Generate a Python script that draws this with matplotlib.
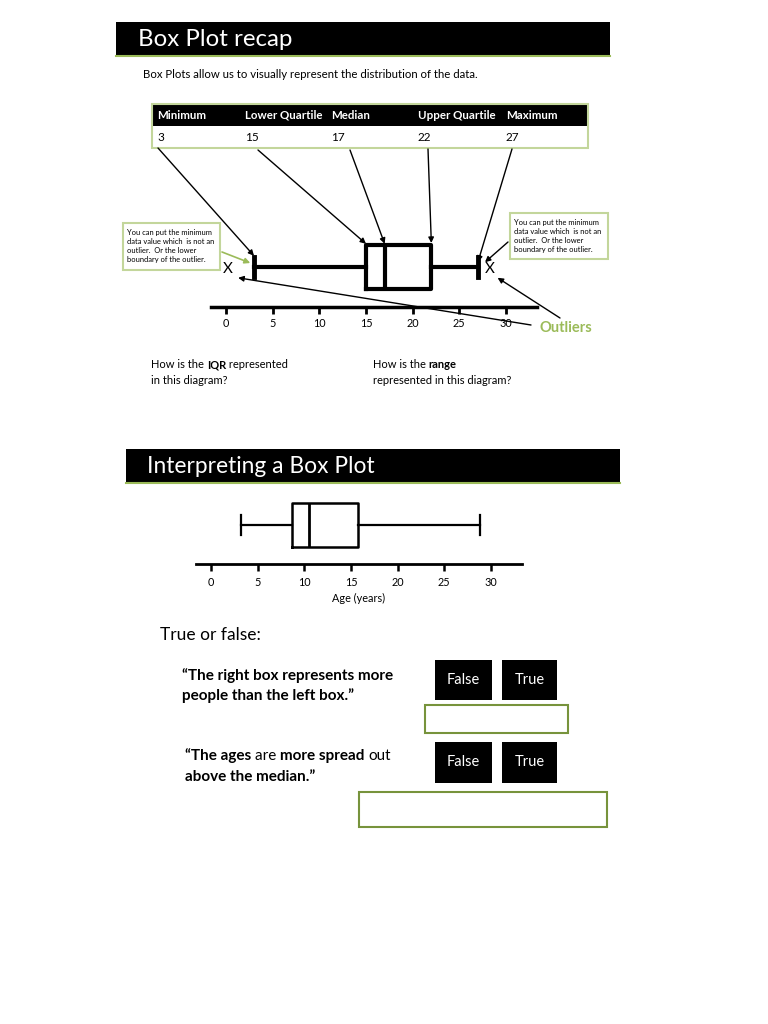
import matplotlib
matplotlib.use("Agg")
import matplotlib.pyplot as plt
from matplotlib.patches import Rectangle

plt.rcParams['font.family'] = ['Lato', 'DejaVu Sans']

# ---- data ----
recap_labels = ['Minimum', 'Lower Quartile', 'Median', 'Upper Quartile', 'Maximum']
recap_values = [3, 15, 17, 22, 27]
recap_outliers = [0.2, 28.3]
age_values = [3.2, 8.7, 10.5, 15.8, 28.8]   # whisker low, Q1, median, Q3, whisker high
axis_ticks = [0, 5, 10, 15, 20, 25, 30]
note_text = ("You can put the minimum\ndata value which  is not an\n"
             "outlier.  Or the lower\nboundary of the outlier.")
answers = ['False', 'True']

W, H = 768, 1024
GREEN = '#77933c'
LIGHT_GREEN = '#c3d69b'
OUT_GREEN = '#9bbb59'

fig = plt.figure(figsize=(W / 100, H / 100), dpi=100)

# background axes in pixel coordinates
bg = fig.add_axes([0, 0, 1, 1])
bg.set_xlim(0, W)
bg.set_ylim(H, 0)
bg.axis('off')


def px_rect(x0, y0, w, h):
    return [x0 / W, 1 - (y0 + h) / H, w / W, h / H]


def rich(x, y, parts, size, color='black'):
    t = bg.text(x, y, parts[0][0], fontsize=size, fontweight=parts[0][1],
                va='bottom', ha='left', color=color)
    for s, w in parts[1:]:
        t = bg.annotate(s, xy=(1, 0), xycoords=t, va='bottom', ha='left',
                        fontsize=size, fontweight=w, color=color)
    return t


def title_bar(x0, y0, w, h, text, tx, size):
    bg.add_patch(Rectangle((x0, y0), w, h, facecolor='black', edgecolor='none'))
    bg.plot([x0, x0 + w], [y0 + h + 0.8, y0 + h + 0.8], color=OUT_GREEN, lw=1.5)
    bg.text(tx, y0 + h / 2 + 1, text, color='white', fontsize=size, va='center', ha='left')


# ---------------- Box Plot recap ----------------
title_bar(116, 22, 494, 33, 'Box Plot recap', 138, 17.3)
bg.text(143, 75, 'Box Plots allow us to visually represent the distribution of the data.',
        fontsize=8.2, va='center', ha='left')

# table of the five values
col_x = [157, 245, 331, 418, 506]
bg.add_patch(Rectangle((152, 104), 436, 22, facecolor='black', edgecolor='none'))
bg.add_patch(Rectangle((152, 104), 436, 44, facecolor='none', edgecolor=LIGHT_GREEN, lw=1.5))
for cx, lab, val in zip(col_x, recap_labels, recap_values):
    bg.text(cx, 119, lab, color='white', fontsize=8.3, fontweight='bold', va='baseline')
    bg.text(cx, 141, str(val), color='black', fontsize=8.5, va='baseline')

# top box plot axes (axis line at y=307, 0 -> x=226, 30 -> x=506)
ax1 = fig.add_axes(px_rect(211, 227, 326, 80))
ax1.set_facecolor('none')
stats1 = [dict(whislo=recap_values[0], q1=recap_values[1], med=recap_values[2],
               q3=recap_values[3], whishi=recap_values[4], fliers=[])]
ax1.bxp(stats1, positions=[0], widths=1.12, capwidths=0.52, orientation='horizontal',
        showfliers=False, manage_ticks=False,
        boxprops=dict(color='black', lw=3),
        whiskerprops=dict(color='black', lw=3),
        capprops=dict(color='black', lw=3.5),
        medianprops=dict(color='black', lw=3))
for v in recap_outliers:
    ax1.text(v, -0.05, 'X', ha='center', va='center', fontsize=11)
ax1.set_xlim((211 - 226) / 9.333, (537 - 226) / 9.333)
ax1.set_ylim(-1, 1)
ax1.set_xticks(axis_ticks)
ax1.set_yticks([])
for s in ['top', 'right', 'left']:
    ax1.spines[s].set_visible(False)
ax1.spines['bottom'].set_linewidth(2.5)
ax1.tick_params(axis='x', direction='out', length=5, width=2, labelsize=7.8, pad=3)

# arrows from the table to the plot
arrow = dict(arrowstyle='-|>', color='black', lw=1, mutation_scale=8, shrinkA=0, shrinkB=0)
starts = [(158, 148), (258, 150), (350, 150), (428, 149), (512, 149)]
targets_y = [0.28, 0.58, 0.58, 0.6, 0.13]
for (sx, sy), v, ty in zip(starts, recap_values, targets_y):
    bg.annotate('', xy=(v, ty), xycoords=ax1.transData, xytext=(sx, sy),
                textcoords='data', arrowprops=arrow)

# note boxes
bg.add_patch(Rectangle((123, 223), 97, 47, facecolor='white', edgecolor=LIGHT_GREEN, lw=1.5))
bg.text(127, 246, note_text, fontsize=5.4, va='center', ha='left', linespacing=1.3)
bg.add_patch(Rectangle((510, 213), 98, 46, facecolor='white', edgecolor=LIGHT_GREEN, lw=1.5))
bg.text(514, 236, note_text, fontsize=5.4, va='center', ha='left', linespacing=1.3)
bg.annotate('', xy=(recap_values[0] - 0.4, 0.1), xycoords=ax1.transData, xytext=(222, 252),
            textcoords='data',
            arrowprops=dict(arrowstyle='-|>', color=OUT_GREEN, lw=1.2, mutation_scale=8,
                            shrinkA=0, shrinkB=0))
bg.annotate('', xy=(recap_values[4] + 0.75, 0.12), xycoords=ax1.transData, xytext=(508, 242),
            textcoords='data', arrowprops=arrow)

# outliers label and arrows
bg.text(540, 328, 'Outliers', color=OUT_GREEN, fontsize=10.5, fontweight='bold', va='center')
bg.annotate('', xy=(recap_outliers[0] + 1.1, -0.27), xycoords=ax1.transData, xytext=(531, 325),
            textcoords='data', arrowprops=arrow)
bg.annotate('', xy=(recap_outliers[1] + 0.8, -0.27), xycoords=ax1.transData, xytext=(560, 318),
            textcoords='data', arrowprops=arrow)

# questions
rich(151, 370, [('How is the ', 'normal'), ('IQR', 'bold'), (' represented', 'normal')], 8)
bg.text(151, 386, 'in this diagram?', fontsize=8, va='bottom')
rich(373, 370, [('How is the ', 'normal'), ('range', 'bold')], 8)
bg.text(373, 386, 'represented in this diagram?', fontsize=8, va='bottom')

# ---------------- Interpreting a Box Plot ----------------
title_bar(126, 449, 494, 33, 'Interpreting a Box Plot', 147, 16.4)

ax2 = fig.add_axes(px_rect(196, 486, 326, 78))
ax2.set_facecolor('none')
stats2 = [dict(whislo=age_values[0], q1=age_values[1], med=age_values[2],
               q3=age_values[3], whishi=age_values[4], fliers=[])]
ax2.bxp(stats2, positions=[0], widths=1.15, capwidths=0.52, orientation='horizontal',
        showfliers=False, manage_ticks=False,
        boxprops=dict(color='black', lw=1.8),
        whiskerprops=dict(color='black', lw=1.6),
        capprops=dict(color='black', lw=1.6),
        medianprops=dict(color='black', lw=2))
ax2.set_xlim((196 - 211) / 9.333, (522 - 211) / 9.333)
ax2.set_ylim(-1, 1)
ax2.set_xticks(axis_ticks)
ax2.set_yticks([])
for s in ['top', 'right', 'left']:
    ax2.spines[s].set_visible(False)
ax2.spines['bottom'].set_linewidth(2)
ax2.tick_params(axis='x', direction='out', length=5, width=1.8, labelsize=7.8, pad=4)
ax2.set_xlabel('Age (years)', fontsize=7.8, labelpad=4)

bg.text(160, 635, 'True or false:', fontsize=12.5, va='center')

rich(182, 683, [('“The right box represents more', 'bold')], 11)
rich(182, 703, [('people than the left box.”', 'bold')], 11)
rich(185, 763, [('“The ages ', 'bold'), ('are ', 'normal'), ('more spread ', 'bold'),
                ('out', 'normal')], 11)
rich(185, 784, [('above the median.”', 'bold')], 11)

# answer buttons and boxes
for y0, hh in [(660, 40), (742, 41)]:
    for x0, ww, lab in zip([435, 502], [57, 55], answers):
        bg.add_patch(Rectangle((x0, y0), ww, hh, facecolor='black', edgecolor='none'))
        bg.text(x0 + ww / 2, y0 + hh / 2, lab, color='white', fontsize=10.5,
                ha='center', va='center')
bg.add_patch(Rectangle((425, 705), 143, 28, facecolor='none', edgecolor=GREEN, lw=1.5))
bg.add_patch(Rectangle((359, 792), 248, 35, facecolor='none', edgecolor=GREEN, lw=1.5))

fig.savefig('out.png', dpi=100)
